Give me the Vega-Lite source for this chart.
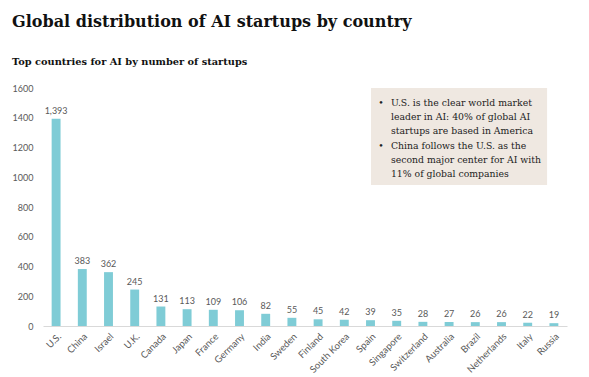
{
  "$schema": "https://vega.github.io/schema/vega-lite/v6.json",
  "autosize": {"type": "none"},
  "width": 524,
  "height": 238,
  "padding": {"left": 43, "top": 88, "right": 22, "bottom": 51},
  "background": "white",
  "title": {
    "text": "Global distribution of AI startups by country",
    "subtitle": "Top countries for AI by number of startups",
    "anchor": "start",
    "frame": "bounds",
    "font": "DejaVu Serif",
    "fontSize": 16,
    "fontWeight": "bold",
    "color": "#111111",
    "subtitleFont": "DejaVu Serif",
    "subtitleFontSize": 9.8,
    "subtitleFontWeight": "bold",
    "subtitleColor": "#111111",
    "subtitlePadding": 27,
    "offset": 17
  },
  "config": {
    "view": {"stroke": null},
    "axisY": {
      "title": null, "values": [0, 200, 400, 600, 800, 1000, 1200, 1400, 1600],
      "format": "d", "grid": false, "domain": false, "ticks": false, "labelOverlap": false,
      "labelFont": "Lato", "labelFontSize": 9, "labelColor": "#595959", "labelPadding": 10
    }
  },
  "datasets": {
    "bars": [
      {"country": "U.S.", "startups": 1393},
      {"country": "China", "startups": 383},
      {"country": "Israel", "startups": 362},
      {"country": "U.K.", "startups": 245},
      {"country": "Canada", "startups": 131},
      {"country": "Japan", "startups": 113},
      {"country": "France", "startups": 109},
      {"country": "Germany", "startups": 106},
      {"country": "India", "startups": 82},
      {"country": "Sweden", "startups": 55},
      {"country": "Finland", "startups": 45},
      {"country": "South Korea", "startups": 42},
      {"country": "Spain", "startups": 39},
      {"country": "Singapore", "startups": 35},
      {"country": "Switzerland", "startups": 28},
      {"country": "Australia", "startups": 27},
      {"country": "Brazil", "startups": 26},
      {"country": "Netherlands", "startups": 26},
      {"country": "Italy", "startups": 22},
      {"country": "Russia", "startups": 19}
    ],
    "box": [{"x0": 12.52, "x1": 19.24, "y0": 948, "y1": 1600}],
    "notes": [
      {"x": 13.28, "y": 1499, "line": "U.S. is the clear world market"},
      {"x": 13.28, "y": 1405, "line": "leader in AI: 40% of global AI"},
      {"x": 13.28, "y": 1311, "line": "startups are based in America"},
      {"x": 13.28, "y": 1210, "line": "China follows the U.S. as the"},
      {"x": 13.28, "y": 1116, "line": "second major center for AI with"},
      {"x": 13.28, "y": 1022, "line": "11% of global companies"}
    ],
    "bullets": [
      {"x": 12.8, "y": 1499, "b": "•"},
      {"x": 12.8, "y": 1210, "b": "•"}
    ]
  },
  "layer": [
    {
      "data": {"name": "bars"},
      "layer": [
        {
          "mark": {"type": "bar", "color": "#7FCCD6"},
          "encoding": {
            "x": {
              "field": "country", "type": "nominal", "sort": null,
              "scale": {"paddingInner": 0.66, "paddingOuter": 0.33},
              "axis": {
                "title": null, "labelAngle": -45, "labelFont": "Lato", "labelFontSize": 9.5,
                "labelColor": "#595959", "domainColor": "#d9d9d9", "ticks": false,
                "labelPadding": 5
              }
            },
            "y": {
              "field": "startups", "type": "quantitative",
              "scale": {"domain": [0, 1600]}
            }
          }
        },
        {
          "mark": {"type": "text", "dy": -8, "font": "Lato", "fontSize": 9, "color": "#595959"},
          "encoding": {
            "x": {"field": "country", "type": "nominal", "sort": null},
            "y": {"field": "startups", "type": "quantitative"},
            "text": {"field": "startups", "type": "quantitative", "format": ","}
          }
        }
      ]
    },
    {
      "layer": [
        {
          "data": {"name": "box"},
          "mark": {"type": "rect", "color": "#EFE8E1"},
          "encoding": {
            "x": {"field": "x0", "type": "quantitative", "scale": {"domain": [0, 20]}, "axis": null},
            "x2": {"field": "x1"},
            "y": {"field": "y0", "type": "quantitative"},
            "y2": {"field": "y1"}
          }
        },
        {
          "data": {"name": "notes"},
          "mark": {"type": "text", "align": "left", "baseline": "middle", "font": "DejaVu Serif", "fontSize": 9.3, "color": "#222222"},
          "encoding": {
            "x": {"field": "x", "type": "quantitative", "scale": {"domain": [0, 20]}, "axis": null},
            "y": {"field": "y", "type": "quantitative"},
            "text": {"field": "line"}
          }
        },
        {
          "data": {"name": "bullets"},
          "mark": {"type": "text", "align": "left", "baseline": "middle", "font": "DejaVu Serif", "fontSize": 9.3, "color": "#222222"},
          "encoding": {
            "x": {"field": "x", "type": "quantitative", "scale": {"domain": [0, 20]}, "axis": null},
            "y": {"field": "y", "type": "quantitative"},
            "text": {"field": "b"}
          }
        }
      ]
    }
  ],
  "resolve": {"scale": {"x": "independent"}}
}
